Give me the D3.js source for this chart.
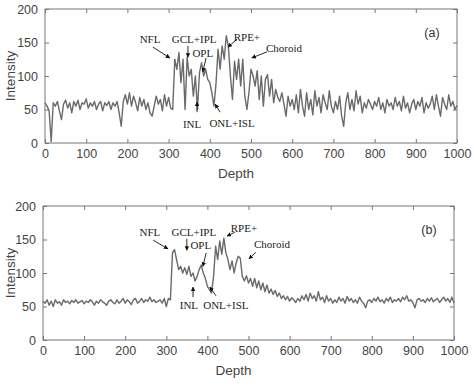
<!DOCTYPE html>
<html>
<head>
<meta charset="utf-8">
<script src="https://cdn.jsdelivr.net/npm/d3@7"></script>
<style>
  body { margin: 0; background: #fff; }
  svg { display: block; }
</style>
</head>
<body>
<div id="chart"></div>
<script>
// depth samples every 5 units
var depth = d3.range(0, 1001, 5);

// intensity profile (a)
var intensityA = [
  60, 55, 48, 2, 60, 55, 62, 48, 35, 58, 64, 52, 60, 45, 62, 55, 64, 50, 60, 58,
  66, 52, 60, 55, 62, 50, 58, 62, 48, 60, 56, 62, 50, 60, 55, 62, 45, 25, 62, 72,
  58, 75, 55, 70, 60, 48, 68, 55, 65, 50, 60, 45, 40, 55, 70, 58, 65, 48, 72, 55,
  68, 52, 50, 125, 110, 135, 90, 125, 50, 128, 100, 110, 70, 100, 50, 105, 120, 100, 110, 95,
  90, 75, 55, 88, 140, 110, 145, 125, 160, 145, 100, 65, 122, 95, 125, 85, 125, 70, 50, 75,
  110, 100, 85, 108, 65, 100, 55, 95, 102, 70, 95, 60, 80, 68, 62, 75, 58, 40, 70, 55,
  65, 50, 72, 45, 80, 55, 40, 75, 50, 65, 42, 78, 55, 68, 45, 72, 60, 50, 78, 55,
  45, 62, 50, 70, 40, 25, 60, 75, 50, 65, 48, 78, 58, 70, 45, 60, 52, 65, 58, 50,
  62, 55, 68, 50, 60, 45, 65, 55, 60, 50, 68, 55, 62, 48, 70, 52, 60, 45, 58, 65,
  50, 62, 55, 68, 45, 60, 52, 58, 70, 50, 72, 55, 40, 68, 58, 50, 72, 55, 62, 50,
  56
];

// intensity profile (b)
var intensityB = [
  58, 55, 60, 52, 58, 50, 60, 55, 57, 52, 60, 56, 58, 54, 59, 56, 60, 55, 57, 59,
  54, 58, 56, 60, 57, 52, 58, 55, 60, 57, 55, 52, 58, 60, 56, 54, 60, 55, 58, 62,
  55, 60, 57, 53, 60, 62, 55, 58, 62, 56, 60, 58, 64, 57, 60, 56, 58, 60, 55, 62,
  50, 62, 60, 130, 135, 120, 105, 110, 100, 108, 98, 110, 95, 100, 88, 95, 105, 112, 100, 92,
  80, 75, 70, 95, 140, 120, 148, 128, 152, 130, 120, 105, 118, 100, 115, 125, 122, 95, 88, 96,
  85, 92, 80, 92, 78, 88, 75, 85, 72, 82, 70, 76, 68, 74, 65, 70, 62, 66, 60, 65,
  58, 63, 60, 56, 62, 58, 66, 60, 68, 58, 70, 62, 66, 58, 72, 60, 64, 56, 66, 58,
  62, 55, 60, 56, 64, 58, 62, 55, 65, 58, 62, 56, 60, 55, 64, 58, 55, 48, 58, 60,
  56, 62, 58, 64, 57, 60, 55, 62, 58, 64, 56, 60, 58, 62, 57, 64, 60, 66, 58, 60,
  56, 48, 60, 62, 58, 60, 56, 62, 58, 63, 57, 60, 62, 56, 60, 64, 58, 62, 56, 64,
  55
];

var xTicks = [0, 100, 200, 300, 400, 500, 600, 700, 800, 900, 1000];
var yTicks = [0, 50, 100, 150, 200];

// layer labels: text, label point, arrow start, arrow end (depth, intensity)
var labelsA = [
  ["NFL", 255, 155, 262, 143, 303, 127],
  ["GCL+IPL", 362, 155, 347, 145, 347, 128],
  ["OPL", 383, 134, 391, 127, 383, 106],
  ["INL", 357, 28, 369, 46, 369, 61],
  ["ONL+ISL", 454, 30, 425, 46, 413, 58],
  ["RPE+", 490, 158, 466, 155, 444, 143],
  ["Choroid", 580, 142, 539, 136, 502, 127]
];
var labelsB = [
  ["NFL", 260, 161, 268, 149, 304, 136],
  ["GCL+IPL", 367, 161, 350, 151, 350, 134],
  ["OPL", 384, 142, 397, 130, 389, 110],
  ["INL", 355, 52, 365, 64, 365, 79],
  ["ONL+ISL", 445, 52, 421, 66, 406, 79],
  ["RPE+", 489, 167, 467, 161, 448, 155],
  ["Choroid", 557, 143, 518, 131, 501, 121]
];

var width = 474,
    height = 387;

var svg = d3.select("#chart")
  .append("svg")
  .attr("width", width)
  .attr("height", height);

// arrow head
svg.append("defs").append("marker")
  .attr("id", "head")
  .attr("viewBox", "0 0 10 10")
  .attr("refX", 9)
  .attr("refY", 5)
  .attr("markerWidth", 5)
  .attr("markerHeight", 5)
  .attr("orient", "auto")
  .append("path")
  .attr("d", "M0,0L10,5L0,10z")
  .attr("fill", "#111");

function drawPanel(box, values, labels, tag) {
  var x = d3.scaleLinear().domain([0, 1000]).range([box.left, box.right]);
  var y = d3.scaleLinear().domain([0, 200]).range([box.bottom, box.top]);

  var g = svg.append("g");

  // plot box
  g.append("rect")
    .attr("x", box.left)
    .attr("y", box.top)
    .attr("width", box.right - box.left)
    .attr("height", box.bottom - box.top)
    .attr("fill", "none")
    .attr("stroke", "#777")
    .attr("stroke-width", 1);

  var bottom = g.append("g")
    .attr("transform", "translate(0," + box.bottom + ")")
    .call(d3.axisBottom(x).tickValues(xTicks).tickSize(-4).tickPadding(6).tickFormat(d3.format("d")));
  var top = g.append("g")
    .attr("transform", "translate(0," + box.top + ")")
    .call(d3.axisTop(x).tickValues(xTicks).tickSize(-4).tickFormat(""));
  var left = g.append("g")
    .attr("transform", "translate(" + box.left + ",0)")
    .call(d3.axisLeft(y).tickValues(yTicks).tickSize(-4).tickPadding(7));
  var right = g.append("g")
    .attr("transform", "translate(" + box.right + ",0)")
    .call(d3.axisRight(y).tickValues(yTicks).tickSize(-4).tickFormat(""));

  [bottom, top, left, right].forEach(a => {
    a.select(".domain").remove();
    a.selectAll("line").attr("stroke", "#777");
    a.selectAll("text")
      .attr("fill", "#444")
      .style("font-family", "'Liberation Sans', Arial, sans-serif")
      .style("font-size", "12.5px");
  });

  // intensity trace
  var line = d3.line()
    .x((d, i) => x(depth[i]))
    .y(d => y(d));

  g.append("path")
    .datum(values)
    .attr("d", line)
    .attr("fill", "none")
    .attr("stroke", "#6a6a6a")
    .attr("stroke-width", 1.4)
    .attr("stroke-linejoin", "round");

  // axis titles
  g.append("text")
    .attr("x", (box.left + box.right) / 2 - 15)
    .attr("y", box.bottom + 35)
    .attr("text-anchor", "middle")
    .attr("fill", "#444")
    .style("font-family", "'Liberation Sans', Arial, sans-serif")
    .style("font-size", "13.5px")
    .text("Depth");

  g.append("text")
    .attr("transform", "translate(15," + (box.top + box.bottom) / 2 + ") rotate(-90)")
    .attr("text-anchor", "middle")
    .attr("fill", "#444")
    .style("font-family", "'Liberation Sans', Arial, sans-serif")
    .style("font-size", "13.5px")
    .text("Intensity");

  // layer annotations
  labels.forEach(l => {
    g.append("text")
      .attr("x", x(l[1]))
      .attr("y", y(l[2]))
      .attr("dy", "0.35em")
      .attr("text-anchor", "middle")
      .attr("fill", "#222")
      .style("font-family", "'Liberation Serif', 'Times New Roman', serif")
      .style("font-size", "11px")
      .text(l[0]);

    g.append("line")
      .attr("x1", x(l[3]))
      .attr("y1", y(l[4]))
      .attr("x2", x(l[5]))
      .attr("y2", y(l[6]))
      .attr("stroke", "#111")
      .attr("stroke-width", 0.9)
      .attr("marker-end", "url(#head)");
  });

  g.append("text")
    .attr("x", box.right - 25)
    .attr("y", box.top + 24)
    .attr("dy", "0.35em")
    .attr("text-anchor", "middle")
    .attr("fill", "#333")
    .style("font-family", "'Liberation Sans', Arial, sans-serif")
    .style("font-size", "12.5px")
    .text(tag);
}

drawPanel({ left: 45, right: 457, top: 9, bottom: 143 }, intensityA, labelsA, "(a)");
drawPanel({ left: 43, right: 454, top: 206, bottom: 340 }, intensityB, labelsB, "(b)");
</script>
</body>
</html>
